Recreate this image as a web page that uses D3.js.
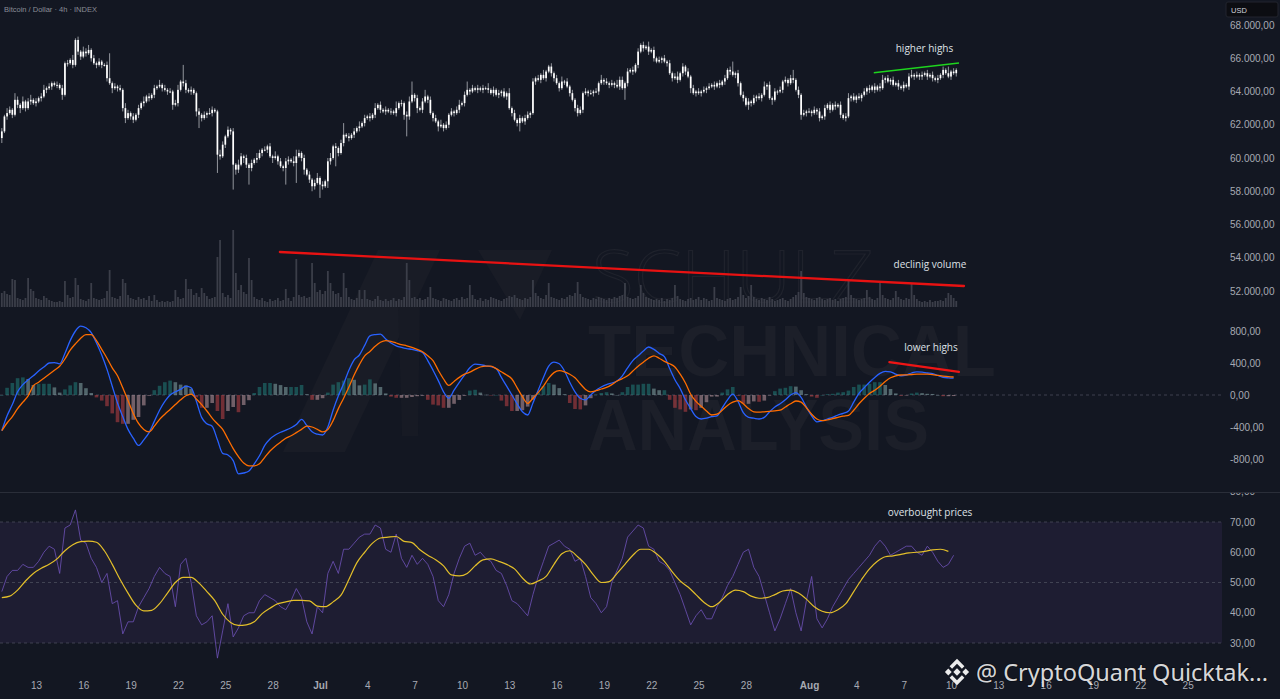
<!DOCTYPE html>
<html><head><meta charset="utf-8">
<script src="https://cdn.jsdelivr.net/npm/d3@7"></script>
<style>html,body{margin:0;padding:0;background:#131722;overflow:hidden}svg{display:block}</style>
</head><body>
<svg id="c" width="1280" height="699"></svg>
<script>
// ---------------- DATA ----------------
const candleStart = "2024-06-10T20:00:00Z";   // first 4h candle
const firstOpenH = 612;                        // open of first candle, in $100
// 4h closes, in hundreds of USD
const closeH = [
616,625,627,629,626,635,632,630,634,630, 634,635,633,634,636,637,641,642,643,645,
644,644,642,638,657,657,659,656,671,664, 661,664,663,665,660,657,656,658,656,656,
648,645,642,643,642,641,630,624,627,625, 623,626,630,633,634,637,636,638,642,643,
644,642,641,640,640,632,633,641,646,645, 641,640,641,639,628,626,624,626,627,627,
629,628,602,601,608,613,617,616,596,593, 596,601,600,596,594,597,599,600,603,605,
605,607,601,600,601,598,595,594,598,599, 598,597,601,603,600,593,590,587,583,585,
588,584,583,586,598,600,607,606,603,609, 614,613,612,614,616,618,619,621,624,625,
624,626,630,632,629,628,629,628,628,627, 630,633,633,626,625,634,638,636,630,629,
634,637,635,627,624,622,619,620,618,620, 626,628,627,629,632,633,638,641,640,642,
641,642,641,642,642,641,639,641,638,639, 640,637,639,630,627,623,621,624,622,624,
626,627,646,648,647,650,648,652,655,651, 648,645,642,646,646,643,639,635,630,627,
629,639,640,639,639,640,640,645,647,646, 645,644,645,644,643,647,642,645,652,653,
652,656,664,668,666,667,664,665,660,658, 659,660,658,657,651,648,649,647,651,655,
652,649,642,639,640,639,640,641,642,643, 644,643,645,644,646,648,653,652,650,651,
645,638,636,632,634,633,636,637,636,638, 643,644,636,635,640,640,641,646,647,645,
648,647,641,638,626,627,628,628,627,629, 628,624,625,630,632,629,632,631,632,626,
624,625,636,637,635,637,636,638,640,642, 641,643,641,643,642,647,648,646,647,644,
645,643,642,644,643,649,650,649,650,649, 650,651,649,650,648,647,648,650,653,651,
649,652,651,653];
// upper / lower wick length beyond the body, in $100
const wickHiH = [
2,1,3,2,1,4,2,1,3,1, 2,3,1,2,1,2,3,1,2,1, 1,2,1,2,1,2,1,3,1,2, 1,3,2,3,1,2,1,2,1,1,
2,15,1,2,1,2,1,3,2,1, 2,1,2,1,3,1,2,1,2,1, 3,1,2,1,2,1,2,3,1,10, 2,1,2,1,1,2,1,2,1,3,
2,1,1,3,2,1,2,1,2,1, 3,2,1,2,1,2,1,3,2,1, 2,1,2,1,3,1,2,1,2,2, 1,3,4,2,1,2,1,2,1,2,
3,1,2,1,2,3,1,2,1,2, 7,1,2,1,2,1,3,1,2,1, 2,1,3,1,2,1,2,1,2,1, 4,1,2,1,2,3,8,1,2,1,
2,4,1,2,1,2,1,3,1,2, 1,2,1,2,3,1,2,5,1,2, 1,2,1,2,1,3,1,2,1,2, 1,2,1,3,1,2,1,2,1,2,
2,1,2,1,2,1,3,1,1,2, 1,2,1,3,1,2,1,2,1,2, 2,1,2,1,2,1,2,1,3,1, 2,1,2,1,3,2,2,1,2,1,
2,1,2,1,2,1,3,1,2,1, 2,1,2,1,2,1,2,3,1,2, 1,2,1,2,1,2,1,2,1,2, 1,2,1,2,1,2,1,2,6,1,
2,1,2,1,2,1,2,1,2,1, 3,1,2,1,2,1,2,1,2,1, 2,5,1,2,1,2,1,2,1,2, 1,2,1,2,1,2,1,2,1,2,
1,2,3,1,2,1,2,1,2,1, 2,1,2,1,2,3,1,2,1,2, 1,2,1,2,1,2,3,1,2,1, 2,1,2,1,2,1,2,1,2,1,
4,1,2,1];
const wickLoH = [
3,1,2,1,2,1,2,3,1,2, 1,2,1,2,1,2,1,2,1,2, 1,2,1,3,1,2,1,2,1,2, 2,1,2,1,2,1,2,1,2,1,
2,1,3,1,2,1,2,3,1,2, 2,1,2,1,2,1,2,1,2,1, 1,2,1,2,1,3,1,2,1,2, 2,1,2,1,3,8,2,1,2,1,
2,1,11,2,1,2,1,2,15,3, 2,1,3,2,10,2,1,2,1,2, 1,2,1,3,1,2,1,2,10,2, 1,2,12,1,2,3,1,2,3,2,
1,8,2,1,4,2,1,11,2,1, 2,1,2,1,2,1,2,1,2,1, 2,1,2,1,2,1,2,1,2,1, 2,1,2,3,12,2,1,2,3,1,
2,1,2,1,2,1,3,1,2,1, 2,1,2,1,2,1,2,1,2,1, 1,2,1,2,1,2,1,2,1,2, 2,1,2,1,2,1,2,5,1,2,
1,2,1,2,1,2,1,2,1,2, 2,1,2,1,2,1,2,1,2,2, 1,2,1,2,1,2,1,2,1,2, 1,2,1,2,1,2,1,7,2,1,
2,1,2,1,2,1,2,1,2,1, 1,2,1,2,1,2,1,2,1,2, 2,1,3,1,2,1,2,1,2,1, 1,2,1,2,1,2,1,2,1,2,
2,1,2,1,3,2,1,2,1,2, 1,2,1,3,1,2,1,2,1,2, 1,2,1,2,3,1,2,1,2,1, 2,2,1,2,1,2,1,2,1,2,
1,2,1,2,1,2,1,2,1,2, 2,1,2,1,2,1,2,1,2,1, 1,2,1,2,1,2,1,2,1,2, 2,1,2,1,2,1,2,1,2,1,
1,2,1,2];
// 4h volume (relative units)
const volume = [
14,16,13,12,28,27,9,8,7,9, 29,18,16,9,8,7,11,9,7,6, 5,5,6,5,26,12,9,10,29,22, 8,7,6,8,24,9,8,7,8,9,
16,37,10,9,8,11,28,24,12,9, 8,7,10,8,9,7,11,6,12,7, 5,6,5,6,5,6,17,10,8,9, 28,18,18,12,14,10,19,14,11,8,
9,10,50,67,14,10,12,9,77,34, 17,22,15,13,49,27,10,8,7,9, 6,5,8,6,7,9,6,7,18,9, 6,10,48,12,10,11,9,10,44,24,
15,17,13,16,36,24,16,13,14,10, 34,19,10,8,7,9,17,8,17,8, 7,6,8,11,7,6,8,6,7,9, 6,8,7,10,44,27,9,10,8,9,
7,8,10,20,9,8,7,6,9,8, 7,6,8,9,7,10,8,9,22,12, 8,7,9,6,8,7,10,9,8,7, 6,8,9,11,10,12,9,8,7,9,
8,10,27,14,11,9,8,12,24,10, 9,8,7,9,8,10,12,11,14,25, 13,10,9,8,7,9,8,10,9,8, 7,9,8,10,9,11,12,24,10,9,
8,9,11,22,14,10,9,8,7,8, 7,9,6,8,7,9,22,11,8,7, 6,8,9,7,8,10,7,9,8,6, 7,20,9,8,7,6,8,9,7,8,
10,20,12,9,11,22,10,8,7,9, 8,7,10,8,6,7,8,9,7,6, 8,10,12,15,36,14,10,9,8,7, 9,10,8,7,8,9,7,8,6,8,
9,10,26,12,9,8,7,8,9,17, 10,8,7,9,24,12,9,8,7,9, 16,10,8,7,9,8,24,12,8,6, 5,6,5,7,5,6,6,7,6,9,
14,12,9,6];
// 8h MACD line and signal line
const macdLine = [
-446,-260,-120,40,130,190,241,300,350,400, 405,390,520,680,800,860,840,780,650,500,
320,110,-100,-270,-430,-540,-630,-560,-470,-330, -190,-80,0,40,70,110,90,-80,-280,-360,
-390,-560,-730,-750,-820,-985,-975,-950,-860,-760, -630,-550,-500,-466,-440,-410,-370,-305,-380,-460,
-490,-500,-400,-190,-10,140,310,440,500,620, 740,755,760,700,650,615,595,580,570,555,
530,430,310,180,40,-40,60,158,250,340, 385,380,365,355,330,220,110,0,-110,-210,
-250,-100,60,220,360,410,390,300,160,40, -40,-60,0,60,100,130,150,175,240,340,
430,490,550,600,570,520,480,330,190,80, -60,-170,-270,-300,-290,-270,-260,-160,-60,10,
-80,-220,-280,-290,-300,-280,-210,-150,-110,-60, 0,30,-30,-150,-260,-335,-320,-300,-280,-250,
-230,-200,-90,20,90,160,220,270,295,290, 260,240,250,275,290,285,275,268,245,222,
215,212];
const signalLine = [
-446,-350,-270,-170,-90,-10,116,160,210,260, 310,360,450,560,640,710,755,755,680,570,
460,340,240,90,-70,-230,-355,-430,-460,-390, -305,-240,-180,-120,-60,-10,12,-50,-120,-200,
-290,-360,-430,-550,-670,-770,-850,-885,-885,-860, -780,-700,-640,-590,-540,-510,-470,-430,-390,-400,
-430,-460,-430,-320,-170,-40,100,250,380,490, 545,610,660,680,670,650,630,615,595,570,
540,490,430,310,200,120,170,220,260,285, 320,350,362,360,330,290,250,200,90,-20,
-105,-40,30,110,210,280,304,290,260,215, 140,70,40,55,75,95,130,175,205,240,
300,360,410,460,490,460,420,390,350,260, 150,10,-80,-140,-200,-250,-240,-190,-130,-90,
-70,-110,-170,-210,-215,-210,-205,-198,-190,-150, -110,-75,-90,-160,-240,-300,-320,-310,-295,-280,
-265,-255,-190,-110,-40,20,60,110,170,215, 240,250,252,256,260,262,260,255,245,237,
230,225];
// 8h RSI and 12h RSI moving average
const rsi = [
47,52,54,54,56,55,55,57,60,62, 61,53,68,69,74,64,63,58,55,50, 53,43,44,33,37,37,42,45,48,52,
55,53,52,42,56,58,50,39,36,37, 39,25,34,43,32,35,39,40,40,44, 46,45,44,42,41,44,48,45,37,33,
42,40,53,57,53,61,61,63,65,66, 66,69,68,61,60,66,58,55,59,56, 58,56,52,44,42,46,53,58,62,63,
59,60,58,57,54,53,49,44,43,41, 39,46,52,57,62,63,64,62,61,57, 58,52,45,43,40,42,50,54,58,65,
67,69,68,62,61,57,56,54,50,46, 41,36,39,41,38,38,42,45,49,52, 56,60,61,55,52,46,40,34,38,43,
48,40,34,44,52,38,35,38,42,45, 48,51,53,55,57,59,62,64,62,59, 60,61,62,62,60,59,62,60,57,55,
56,59];
const rsiMA = [
45,45.5,47.5,50.5,53,54.7,56,57.8,60.5,62.5, 63.5,63.7,63.3,60.5,56,51,46.5,42.5,40.6,40.8,
43,46.5,50,51.7,51.7,49.8,47,44,39.5,36.8, 35.8,36,37,39.7,41.5,43,43.6,44.1,44.1,43.9,
42.2,42,43.6,45.8,51,56.5,60,63,64.7,65, 65.2,63.6,63.2,60.8,59,57.5,55.5,52.5,52.2,53,
55.5,57.5,57.8,57,56,54.5,51.5,49.5,50.5,52, 56,59.5,60.5,58.5,56,52.5,50,50.3,53,56,
59,61,61,59.5,57,53.5,50.5,48.5,46,43.5, 42,43.5,46,47.5,47,45.5,44.8,45,46,47.2,
47.5,46.5,44.5,42,40.5,40,41,43,47,51, 54.5,57,58.5,58.8,59.3,59.8,60,60.3,60.8,61,
60.3];
// axis ticks
const priceTicks = [52000,54000,56000,58000,60000,62000,64000,66000,68000];
const macdTicks = [-800,-400,0,400,800];
const rsiTicks = [30,40,50,60,70,80];
const tickDates = ["2024-06-13","2024-06-16","2024-06-19","2024-06-22","2024-06-25","2024-06-28",
 "2024-07-01","2024-07-04","2024-07-07","2024-07-10","2024-07-13","2024-07-16","2024-07-19","2024-07-22",
 "2024-07-25","2024-07-28","2024-08-01","2024-08-04","2024-08-07","2024-08-10","2024-08-13","2024-08-16",
 "2024-08-19","2024-08-22","2024-08-25"];
const tickLabels = ["13","16","19","22","25","28","Jul","4","7","10","13","16","19","22","25","28","Aug",
 "4","7","10","13","16","19","22","25"];
// annotations (drawn by the author)
const higherHighs = [["2024-08-05T02:30:00Z",65130],["2024-08-10T12:10:00Z",65710]];
const volumeTrend = [["2024-06-28T11:00:00Z",55],["2024-08-10T19:45:00Z",21]];
const macdTrend   = [["2024-08-06T02:10:00Z",412],["2024-08-10T12:10:00Z",288]];
const notes = [
  {text:"higher highs",      date:"2024-08-08T07:40:00Z", pane:"price", value:66640},
  {text:"declinig volume",   date:"2024-08-08T16:00:00Z", pane:"vol",   value:43},
  {text:"lower highs",       date:"2024-08-08T17:30:00Z", pane:"macd",  value:600},
  {text:"overbought prices", date:"2024-08-08T16:00:00Z", pane:"rsi",   value:73.3}
];

// ---------------- CHART ----------------
const svg = d3.select("#c");
const plotRight = 1222;
const H4 = 4*3600*1000;
const t0 = new Date(candleStart).getTime();

const x = d3.scaleUtc().domain([new Date("2024-06-13T00:00:00Z"), new Date("2024-08-10T00:00:00Z")]).range([36, 951]);
const priceY = d3.scaleLinear().domain([52000, 68000]).range([291, 25]);
const volY = d3.scaleLinear().domain([0, 80]).range([307, 227]);
const macdY = d3.scaleLinear().domain([-800, 800]).range([459, 331]);
const rsiY = d3.scaleLinear().domain([30, 70]).range([643, 522]);
const yOf = {price: priceY, vol: volY, macd: macdY, rsi: rsiY};

const loc = d3.formatLocale({decimal:",", thousands:".", grouping:[3], currency:["",""], minus:"-"});
const fmt = loc.format(",.2f");

svg.append("rect").attr("width",1280).attr("height",699).attr("fill","#131722");

const defs = svg.append("defs");
defs.append("clipPath").attr("id","plot").append("rect").attr("x",0).attr("y",0).attr("width",plotRight).attr("height",699);
defs.append("clipPath").attr("id","rsiAxis").append("rect").attr("x",1222).attr("y",493).attr("width",60).attr("height",206);

// build tables
const candles = closeH.map((c,i)=>{
  const o = i===0 ? firstOpenH : closeH[i-1];
  const top = Math.max(o,c), bot = Math.min(o,c);
  return {t:new Date(t0+i*H4), o:o*100, c:c*100, h:(top+wickHiH[i])*100, l:(bot-wickLoH[i])*100, v:volume[i]};
});
const macdRows = macdLine.map((m,j)=>({t:new Date(t0+j*2*H4), m, s:signalLine[j], h:m-signalLine[j]}));
const rsiRows = rsi.map((r,j)=>({t:new Date(t0+j*2*H4), r}));
const rsiMARows = rsiMA.map((r,k)=>({t:new Date(t0+k*3*H4), r}));

// ---- watermark (background) ----
const wm = svg.append("g").attr("class","watermark");
wm.append("path").attr("d","M283,452 L345,452 L440,250 L378,250 Z").attr("fill","#191c26");
wm.append("path").attr("d","M478,250 L552,250 L520,320 Z").attr("fill","#191c26");
wm.append("path").attr("d","M398,300 L420,300 L418,436 L402,436 Z").attr("fill","#171a24");
wm.append("text").attr("x",592).attr("y",302).attr("textLength",282).attr("lengthAdjust","spacingAndGlyphs")
  .attr("font-family","Open Sans").attr("font-size",72).attr("font-weight",300)
  .attr("fill","none").attr("stroke","#1f222c").attr("stroke-width",1.2).text("SCHULZ");
wm.append("text").attr("x",588).attr("y",376).attr("textLength",408).attr("lengthAdjust","spacingAndGlyphs")
  .attr("font-family","Liberation Sans").attr("font-size",73).attr("font-weight","bold").attr("fill","#1c1f29").text("TECHNICAL");
wm.append("text").attr("x",588).attr("y",450).attr("textLength",341).attr("lengthAdjust","spacingAndGlyphs")
  .attr("font-family","Liberation Sans").attr("font-size",73).attr("font-weight","bold").attr("fill","#1c1f29").text("ANALYSIS");

// ---- RSI background band + guides ----
const rsiG = svg.append("g").attr("clip-path","url(#plot)");
rsiG.append("rect").attr("x",0).attr("width",plotRight).attr("y",rsiY(70)).attr("height",rsiY(30)-rsiY(70))
  .attr("fill","#7e57c2").attr("fill-opacity",0.1);
[70,50,30].forEach(v=>rsiG.append("line").attr("x1",0).attr("x2",plotRight).attr("y1",rsiY(v)).attr("y2",rsiY(v))
  .attr("stroke","#4a4d5c").attr("stroke-dasharray","3,3").attr("stroke-width",0.8));

// separator
svg.append("line").attr("x1",0).attr("x2",1280).attr("y1",492.5).attr("y2",492.5).attr("stroke","#2a2e39").attr("stroke-width",1);

const plot = svg.append("g").attr("clip-path","url(#plot)");

// ---- volume ----
plot.append("g").selectAll("rect").data(candles).join("rect")
  .attr("x",d=>x(d.t)-0.9).attr("width",1.8)
  .attr("y",d=>volY(d.v)).attr("height",d=>volY(0)-volY(d.v))
  .attr("fill","#3b3e49");

// ---- candles ----
const cg = plot.append("g");
cg.selectAll("line").data(candles).join("line")
  .attr("x1",d=>x(d.t)).attr("x2",d=>x(d.t))
  .attr("y1",d=>priceY(d.h)).attr("y2",d=>priceY(d.l))
  .attr("stroke","#b4b6bc").attr("stroke-width",0.8);
cg.selectAll("rect").data(candles).join("rect")
  .attr("x",d=>x(d.t)-0.85).attr("width",1.7)
  .attr("y",d=>priceY(Math.max(d.o,d.c)))
  .attr("height",d=>Math.max(1, priceY(Math.min(d.o,d.c))-priceY(Math.max(d.o,d.c))))
  .attr("fill","#ffffff");

// ---- MACD ----
plot.append("line").attr("x1",0).attr("x2",plotRight).attr("y1",macdY(0)).attr("y2",macdY(0))
  .attr("stroke","#4a4d5c").attr("stroke-dasharray","3,3").attr("stroke-width",0.8);
plot.append("g").selectAll("rect").data(macdRows).join("rect")
  .attr("x",d=>x(d.t)-1.8).attr("width",3.6)
  .attr("y",d=>Math.min(macdY(d.h),macdY(0))).attr("height",d=>Math.max(0.5,Math.abs(macdY(d.h)-macdY(0))))
  .attr("fill",(d,j)=>{
    const prev = j>0 ? macdRows[j-1].h : d.h;
    if (d.h>=0) return d.h>=prev ? "#26a69a" : "#b2dfdb";
    return d.h<prev ? "#ff5252" : "#ffcdd2";
  })
  .attr("fill-opacity",0.4);
const macdLineGen = key => d3.line().x(d=>x(d.t)).y(d=>macdY(d[key])).curve(d3.curveMonotoneX);
plot.append("path").datum(macdRows).attr("d",macdLineGen("m")).attr("fill","none").attr("stroke","#2962ff").attr("stroke-width",1.3);
plot.append("path").datum(macdRows).attr("d",macdLineGen("s")).attr("fill","none").attr("stroke","#ff6d00").attr("stroke-width",1.3);

// ---- RSI ----
plot.append("path").datum(rsiRows).attr("d",d3.line().x(d=>x(d.t)).y(d=>rsiY(d.r)))
  .attr("fill","none").attr("stroke","#6a4fb0").attr("stroke-width",1).attr("stroke-opacity",0.85);
plot.append("path").datum(rsiMARows).attr("d",d3.line().x(d=>x(d.t)).y(d=>rsiY(d.r)).curve(d3.curveMonotoneX))
  .attr("fill","none").attr("stroke","#e3bf2a").attr("stroke-width",1.2);

// ---- annotations ----
const ann = svg.append("g");
const seg = (pts, yS) => d3.line().x(p=>x(new Date(p[0]))).y(p=>yS(p[1]))(pts);
ann.append("path").attr("d",seg(volumeTrend,volY)).attr("stroke","#e81212").attr("stroke-width",2.3).attr("fill","none").attr("stroke-linecap","round");
ann.append("path").attr("d",seg(macdTrend,macdY)).attr("stroke","#ee1515").attr("stroke-width",2.2).attr("fill","none").attr("stroke-linecap","round");
ann.append("path").attr("d",seg(higherHighs,priceY)).attr("stroke","#1ed41e").attr("stroke-width",1.6).attr("fill","none");
ann.selectAll("text").data(notes).join("text")
  .attr("x",d=>x(new Date(d.date))).attr("y",d=>yOf[d.pane](d.value))
  .attr("text-anchor","middle").attr("dominant-baseline","central")
  .attr("font-family","Open Sans, Liberation Sans").attr("font-size",10).attr("fill","#dfe1e6")
  .text(d=>d.text);

// ---- right axes ----
function rightAxis(scale, ticks, clip){
  const g = svg.append("g").attr("transform","translate(1230,0)");
  if (clip) g.attr("clip-path", clip);
  g.call(d3.axisRight(scale).tickValues(ticks).tickSize(0).tickPadding(0).tickFormat(fmt));
  g.select(".domain").remove();
  g.selectAll("text").attr("fill","#a7aab3").attr("font-family","Liberation Sans").attr("font-size",10);
  return g;
}
rightAxis(priceY, priceTicks);
rightAxis(macdY, macdTicks);
const rsiAx = svg.append("g").attr("clip-path","url(#rsiAxis)");
{
  const g = rsiAx.append("g").attr("transform","translate(1230,0)");
  g.call(d3.axisRight(rsiY).tickValues(rsiTicks).tickSize(0).tickPadding(0).tickFormat(fmt));
  g.select(".domain").remove();
  g.selectAll("text").attr("fill","#a7aab3").attr("font-family","Liberation Sans").attr("font-size",10);
}

// USD box
svg.append("rect").attr("x",1226).attr("y",2).attr("width",52).attr("height",15).attr("rx",2)
  .attr("fill","#0c0d12").attr("stroke","#22252e");
svg.append("text").attr("x",1231).attr("y",12.5).attr("font-family","Liberation Sans").attr("font-size",7.5)
  .attr("fill","#d1d4dc").text("USD");

// ---- bottom axis ----
const xa = svg.append("g").attr("transform","translate(0,682)")
  .call(d3.axisBottom(x).tickValues(tickDates.map(s=>new Date(s+"T00:00:00Z"))).tickSize(0).tickPadding(0)
    .tickFormat((d,i)=>tickLabels[i]));
xa.select(".domain").remove();
xa.selectAll("text").attr("fill","#a7aab3").attr("font-family","Liberation Sans").attr("font-size",10)
  .attr("font-weight",(d,i)=>isNaN(+tickLabels[i]) ? "bold" : "normal");

// ---- title ----
svg.append("text").attr("x",4).attr("y",12).attr("font-family","Liberation Sans").attr("font-size",7.5)
  .attr("fill","#8a8d96").text("Bitcoin / Dollar · 4h · INDEX");

// ---- CryptoQuant watermark ----
const cq = svg.append("g").attr("fill","#ececec");
cq.append("path").attr("d","M957,668.3 L960.7,672 L957,675.7 L953.3,672 Z");
cq.append("path").attr("d","M948.3,668.6 L951.7,672 L948.3,675.4 L944.9,672 Z");
cq.append("path").attr("d","M965.7,668.6 L969.1,672 L965.7,675.4 L962.3,672 Z");
cq.append("path").attr("d","M957,658.8 L964.4,666.2 L961.9,668.7 L957,663.8 L952.1,668.7 L949.6,666.2 Z");
cq.append("path").attr("d","M957,685.2 L964.4,677.8 L961.9,675.3 L957,680.2 L952.1,675.3 L949.6,677.8 Z");
svg.append("text").attr("x",976).attr("y",681).attr("font-family","Noto Sans").attr("font-size",23.5)
  .attr("fill","#ececec").attr("fill-opacity",0.92)
  .attr("stroke","#000").attr("stroke-opacity",0.25).attr("stroke-width",2).attr("paint-order","stroke")
  .text("@ CryptoQuant Quicktak...");
</script>
</body></html>
